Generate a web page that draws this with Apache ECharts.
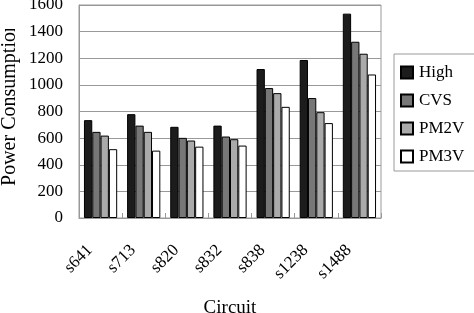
<!DOCTYPE html>
<html><head><meta charset="utf-8">
<script src="https://cdn.jsdelivr.net/npm/echarts@6/dist/echarts.min.js"></script>
<style>html,body{margin:0;padding:0;background:#fff}#c{width:474px;height:313px}</style>
</head><body><div id="c"></div>
<script>
const categories = ['s641','s713','s820','s832','s838','s1238','s1488'];
const high = [735, 780, 685, 694, 1119, 1187, 1535];
const cvs  = [647, 694, 602, 612, 976, 901, 1324];
const pm2v = [619, 647, 582, 592, 938, 795, 1234];
const pm3v = [517, 506, 536, 544, 835, 713, 1078];
const yTicks = [0, 200, 400, 600, 800, 1000, 1200, 1400, 1600];

const font = '"Liberation Serif", "Times New Roman", serif';
const chart = echarts.init(document.getElementById('c'), null, {renderer:'canvas'});
function s(name, data, color){
  return {name, type:'bar', data, barGap:'0%', barCategoryGap:'23%',
    itemStyle:{color, borderColor:'#000', borderWidth:1}};
}
chart.setOption({
  animation:false,
  backgroundColor:'#fff',
  textStyle:{fontFamily:font},
  grid:{left:79, right:93, top:5, bottom:95, containLabel:false, outerBoundsMode:'none',
    show:true, borderColor:'#999', borderWidth:1, backgroundColor:'#fff'},
  legend:{
    orient:'vertical', left:394, top:54,
    icon:'rect',
    itemWidth:12, itemHeight:12, itemGap:11,
    padding:[10,40,6,6],
    borderColor:'#999', borderWidth:1, backgroundColor:'#fff',
    textStyle:{fontFamily:font, fontSize:17, color:'#000', padding:[0,0,0,1]},
    data:['High','CVS','PM2V','PM3V']
  },
  xAxis:{
    type:'category', data:categories,
    name:'Circuit', nameLocation:'middle', nameGap:81,
    nameTextStyle:{fontFamily:font, fontSize:19, color:'#000', verticalAlign:'top'},
    axisLine:{show:true, lineStyle:{color:'#999'}},
    axisTick:{show:true, inside:true, length:5, lineStyle:{color:'#999'}},
    axisLabel:{rotate:45, margin:19, padding:[0,15,0,0], fontFamily:font, fontSize:17, color:'#000'}
  },
  yAxis:{
    type:'value', min:yTicks[0], max:yTicks[yTicks.length-1], interval:200,
    axisLine:{show:true, lineStyle:{color:'#999'}},
    axisTick:{show:false},
    splitLine:{show:true, lineStyle:{color:'#999', width:1}},
    axisLabel:{margin:16, fontFamily:font, fontSize:17, color:'#000', formatter:v => String(v)}
  },
  graphic:[{
    type:'text', x:10, y:104, rotation:Math.PI/2, z:10,
    style:{text:'Power Consumption', fontFamily:font, fontSize:20, fill:'#000', align:'center', verticalAlign:'middle'}
  },{
    type:'rect', shape:{x:0, y:0, width:24, height:29}, z:20,
    style:{fill:'#fff'}
  }],
  series:[
    s('High', high, '#1c1c1c'),
    s('CVS', cvs, '#777777'),
    s('PM2V', pm2v, '#aaaaaa'),
    s('PM3V', pm3v, '#ffffff')
  ]
});
</script></body></html>
